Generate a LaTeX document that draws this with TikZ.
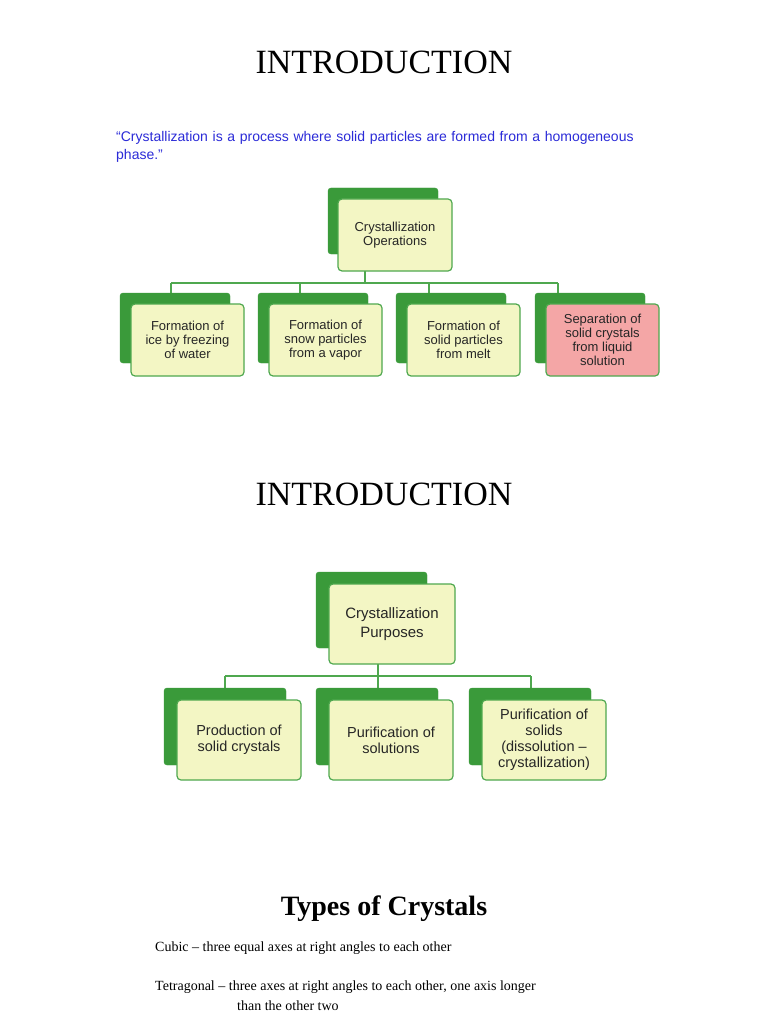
\documentclass[tikz,border=0pt]{standalone}
\usepackage{fontspec}
\setmainfont{Liberation Serif}
\newfontfamily\arial{Liberation Sans}
\definecolor{dgreen}{HTML}{3A9A3A}
\definecolor{bgreen}{HTML}{4FA84F}
\definecolor{lyel}{HTML}{F3F6C4}
\definecolor{lpink}{HTML}{F4A6A6}
\definecolor{qblue}{HTML}{2B2BD8}
\begin{document}
\begin{tikzpicture}[x=1pt,y=-1pt,
  backbox/.style={fill=dgreen,draw=dgreen,rounded corners=3pt},
  frontbox/.style={fill=lyel,draw=bgreen,line width=1.2pt,rounded corners=4pt},
  conn/.style={draw=bgreen,line width=1.3pt},
  btxt/.style={font=\arial\fontsize{13}{14}\selectfont,align=center,text=black!85},
  ctxt/.style={font=\arial\fontsize{15}{17}\selectfont,align=center,text=black!85}]
\useasboundingbox (0,0) rectangle (768,1024);
\fill[white] (0,0) rectangle (768,1024);
\node (t1) at (384,62) {\fontsize{34}{36}\selectfont INTRODUCTION};
\node[anchor=north west,text width=560pt,inner sep=0pt,font=\arial\fontsize{14}{18}\selectfont,text=qblue] (q) at (116,131) {“Crystallization is a process where solid particles are formed from a homogeneous phase.”};
% diagram 1
\newcommand\pbox[7]{% name, bx1,by1,bx2,by2, offset fill, text
}
\coordinate (h1a) at (171,283); \coordinate (h1b) at (558,283);
\draw[conn] (365,271) coordinate (v1) -- (365,283) coordinate (v1b);
\draw[conn] (h1a) -- (h1b);
\foreach \x in {171,300,429,558} \draw[conn] (\x,283) -- (\x,304);
\fill[backbox] (328,188) rectangle (438,254);
\node[frontbox,minimum width=114pt,minimum height=72pt,btxt] (top1) at (395,235) {Crystallization\\Operations};
\foreach \bx/\nm/\fc/\tx in {120/a1/lyel/{Formation of\\ice by freezing\\of water},258/a2/lyel/{Formation of\\snow particles\\from a vapor},396/a3/lyel/{Formation of\\solid particles\\from melt},535/a4/lpink/{Separation of\\solid crystals\\from liquid\\solution}}{
  \fill[backbox] (\bx,293) rectangle ++(110,70);
  \node[frontbox,fill=\fc,minimum width=113pt,minimum height=72pt,btxt] (\nm) at (\bx+11+56.5,340) {\tx};
}
\node (t2) at (384,494) {\fontsize{34}{36}\selectfont INTRODUCTION};
% diagram 2
\draw[conn] (378,664) -- (378,676);
\draw[conn] (225,676) -- (531,676);
\foreach \x in {225,378,531} \draw[conn] (\x,676) -- (\x,700);
\fill[backbox] (316,572) rectangle (427,648);
\node[frontbox,minimum width=126pt,minimum height=80pt,ctxt] (top2) at (392,624) {Crystallization\\[2pt]Purposes};
\foreach \bx/\nm/\tx in {164/b1/{Production of\\solid crystals},316/b2/{Purification of\\solutions},469/b3/{Purification of\\solids\\(dissolution –\\crystallization)}}{
  \fill[backbox] (\bx,688) rectangle ++(122,77);
  \node[frontbox,minimum width=124pt,minimum height=80pt,ctxt,font=\arial\fontsize{14.5}{16}\selectfont] (\nm) at (\bx+13+62,740) {\tx};
}
\node[font=\bfseries\fontsize{28}{30}\selectfont] (t3) at (384,909) {Types of Crystals};
\node[anchor=west,inner sep=0pt,font=\fontsize{14}{16}\selectfont] (c1) at (155,948) {Cubic – three equal axes at right angles to each other};
\node[anchor=west,inner sep=0pt,font=\fontsize{14}{16}\selectfont] (c2) at (155,987) {Tetragonal – three axes at right angles to each other, one axis longer};
\node[anchor=west,inner sep=0pt,font=\fontsize{14}{16}\selectfont] (c3) at (237,1006) {than the other two};
\end{tikzpicture}
\end{document}
